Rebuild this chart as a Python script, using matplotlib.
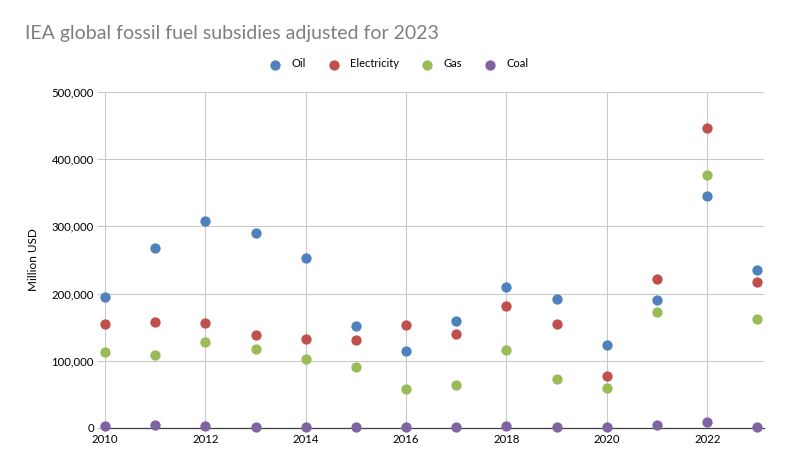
import numpy as np
import matplotlib.pyplot as plt
from matplotlib.ticker import FuncFormatter, MultipleLocator

plt.rcParams['font.family'] = ['Lato', 'DejaVu Sans']

years = [2010, 2011, 2012, 2013, 2014, 2015, 2016, 2017, 2018, 2019, 2020, 2021, 2022, 2023]
oil = [195000, 268500, 308500, 289500, 253000, 152000, 115000, 158500, 209500, 192000, 124000, 190000, 345500, 234500]
electricity = [154500, 157500, 155500, 138500, 132000, 131000, 153000, 140500, 182000, 154500, 77000, 221000, 446000, 216500]
gas = [113000, 108000, 128000, 117000, 102500, 90500, 57500, 64500, 116500, 73500, 59000, 172500, 376000, 162500]
coal = [2500, 4000, 3500, 2000, 1200, 1200, 1700, 2000, 2500, 2000, 1400, 4000, 9000, 1900]

series = [("Oil", oil, "#4F81BD"),
          ("Electricity", electricity, "#C0504D"),
          ("Gas", gas, "#9BBB59"),
          ("Coal", coal, "#8064A2")]

fig = plt.figure(figsize=(7.88, 4.70), dpi=100)
ax = fig.add_axes([0.1332, 0.0894, 0.8363, 0.7149])

for name, vals, col in series:
    ax.scatter(years, vals, s=55, color=col, label=name, zorder=3, clip_on=False, linewidths=0)

ax.set_xlim(2010, 2023.13)
ax.set_ylim(0, 500000)
ax.xaxis.set_major_locator(MultipleLocator(2))
ax.yaxis.set_major_locator(MultipleLocator(100000))
ax.yaxis.set_major_formatter(FuncFormatter(lambda v, p: f"{int(v):,}"))
ax.grid(True, color="#c8c8c8", linewidth=0.75)
ax.set_axisbelow(True)
for s in ["top", "right", "left"]:
    ax.spines[s].set_visible(False)
ax.spines["bottom"].set_color("#404040")
ax.spines["bottom"].set_linewidth(0.9)
ax.tick_params(axis="y", length=6, width=0.75, color="#c8c8c8", labelsize=8.2, pad=2)
ax.tick_params(axis="x", length=0, labelsize=8.2, pad=4)

ax.set_ylabel("Million USD", fontsize=8.5, labelpad=9)

fig.text(0.032, 0.928, "IEA global fossil fuel subsidies adjusted for 2023",
         fontsize=14, color="#7f7f7f", va="center")

leg = fig.legend(loc="center", bbox_to_anchor=(0.503, 0.864), ncol=4, frameon=False,
                 fontsize=8, handletextpad=0.5, columnspacing=1.5, markerscale=1.0)

fig.savefig("out.png", dpi=100)
